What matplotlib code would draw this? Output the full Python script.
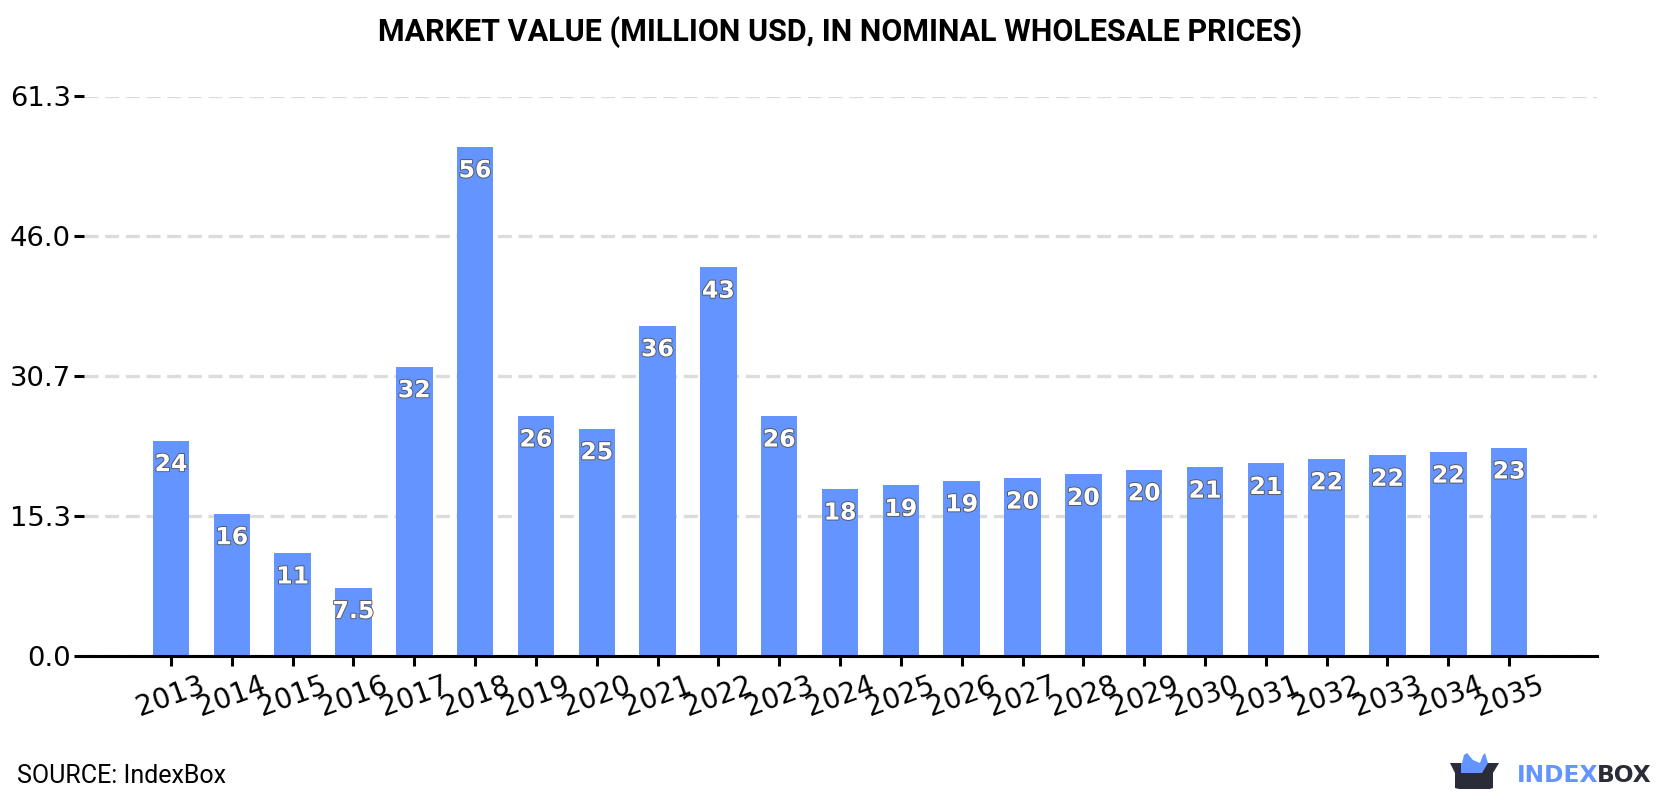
import matplotlib.pyplot as plt
import matplotlib.patheffects as pe
from matplotlib.patches import Polygon

years = list(range(2013, 2036))
values = [23.6, 15.6, 11.3, 7.5, 31.7, 55.8, 26.3, 24.9, 36.2, 42.6, 26.3, 18.3,
          18.7, 19.2, 19.5, 19.9, 20.4, 20.7, 21.1, 21.6, 22.0, 22.35, 22.8]
y_ticks = [0.0, 15.3, 30.7, 46.0, 61.3]

W, H = 1680, 800
BLUE = '#6394ff'
DARK = '#2a2c38'

fig = plt.figure(figsize=(W / 100, H / 100), dpi=100)
ax = fig.add_axes([84 / W, 1 - 656 / H, (1597 - 84) / W, (656 - 96.5) / H])

ax.bar(years, values, width=0.6, color=BLUE, zorder=2)
ax.set_xlim(2013 - 1.43, 2035 + 1.445)
ax.set_ylim(0, 61.3)

ax.set_yticks(y_ticks, [f'{v:.1f}' for v in y_ticks])
ax.set_xticks(years, [str(y) for y in years], rotation=20)
ax.tick_params(axis='y', labelsize=19.7, length=7, width=2.2, pad=2.5)
ax.tick_params(axis='x', labelsize=20, length=7, width=2.2, pad=4)
ax.grid(axis='y', color='#dcdcdc', lw=2.4, dashes=(4.2, 2), zorder=1)
ax.set_axisbelow(True)

for side in ['top', 'left', 'right']:
    ax.spines[side].set_visible(False)
ax.spines['bottom'].set_linewidth(2.2)

# value labels sit just under the top of each bar
for year, v in zip(years, values):
    txt = f'{v:.1f}' if v < 10 else f'{v:.0f}'
    ax.annotate(txt, (year, v), xytext=(0, -17), textcoords='offset points',
                ha='center', va='center', fontsize=17, fontweight='bold', color='white',
                path_effects=[pe.withStroke(linewidth=1.3, foreground='#555555')], zorder=3)

fig.text(0.5, 1 - 32 / H, 'MARKET VALUE (MILLION USD, IN NOMINAL WHOLESALE PRICES)',
         family='Roboto', fontweight='bold', fontsize=22, ha='center', va='center')
fig.text(17 / W, 1 - 776 / H, 'SOURCE: IndexBox', family='Roboto', fontsize=18,
         ha='left', va='center')

# logo, in pixel coordinates
logo = fig.add_axes([0, 0, 1, 1], facecolor='none')
logo.set_xlim(0, W)
logo.set_ylim(H, 0)
logo.axis('off')
logo.add_patch(Polygon([(1462, 763), (1464, 755), (1467, 753), (1473, 760), (1480, 763), (1483, 755),
                       (1485, 753), (1488, 763), (1489, 772), (1462, 772)],
                      closed=True, color=BLUE, lw=0))
logo.add_patch(Polygon([(1450, 763), (1499, 763), (1493, 773), (1493, 788), (1490, 789), (1459, 789),
                       (1455, 788), (1455, 773)],
                      closed=True, color=DARK, lw=0))
logo.add_patch(Polygon([(1461, 763), (1488, 763), (1482, 773), (1461, 773)],
                      closed=True, color=BLUE, lw=0))
logo.text(1517, 775, 'INDEX', fontweight='bold', fontsize=16.8, color=BLUE,
          ha='left', va='center')
logo.text(1597, 775, 'BOX', fontweight='bold', fontsize=16.8, color=DARK,
          ha='left', va='center')

fig.savefig('out.png', dpi=100)
